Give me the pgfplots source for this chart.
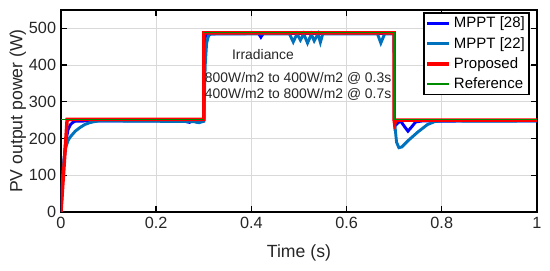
\documentclass[border=0pt]{standalone}
\usepackage{pgfplots}
\pgfplotsset{compat=1.18}
\usepackage{fontspec}
\setmainfont{Liberation Sans}
\definecolor{mblue}{RGB}{0,0,255}
\definecolor{lblue}{RGB}{0,114,189}
\definecolor{pred}{RGB}{255,0,0}
\definecolor{rgreen}{RGB}{0,140,0}
\definecolor{txt}{RGB}{38,38,38}
\begin{document}
\begin{tikzpicture}
\useasboundingbox (-43.9pt,-42.5pt) rectangle (352.1pt,152.6pt);
\begin{axis}[scale only axis, width=342.7pt, height=145.4pt,
  xmin=0, xmax=1, ymin=0, ymax=550,
  xtick={0,0.2,0.4,0.6,0.8,1}, ytick={0,100,200,300,400,500},
  grid=major, grid style={black!15, line width=0.8pt},
  axis line style={line width=1.1pt},
  tick style={black, line width=1pt}, major tick length=4pt,
  tick label style={font=\fontsize{11.7}{12}\selectfont, text=txt},
  /pgf/number format/assume math mode=true,
  xticklabel style={/pgf/number format/fixed},
  xlabel={Time (s)}, ylabel={PV output power (W)},
  label style={font=\fontsize{12.7}{13}\selectfont, text=txt},
  xlabel style={at={(axis description cs:0.5,-0.203)}, anchor=center},
  ylabel style={at={(axis description cs:-0.0905,0.5)}, anchor=center},
  legend cell align=left,
  legend style={at={(0.985,0.99)}, anchor=north east, draw=black, line width=1.2pt,
    font=\fontsize{10.8}{12}\selectfont, inner sep=1pt, row sep=1.2pt, fill=white},
  legend image code/.code={\draw[mark repeat=2,mark phase=2] plot coordinates {(0cm,0cm)(0.28cm,0cm)(0.56cm,0cm)};},
]
\addplot[mblue, line width=2.1pt] coordinates {
(0,0)(0.005,120)(0.01,190)(0.015,225)(0.02,238)(0.025,244)(0.03,247)(0.06,248)(0.1,248)(0.2,248)(0.26,247)(0.27,244)(0.275,248)(0.285,245)(0.29,248)(0.3,248)
(0.302,470)(0.305,485)(0.4,486)(0.415,486)(0.42,476)(0.425,486)(0.5,486)(0.6,486)(0.7,486)
(0.7005,250)(0.703,236)(0.708,243)(0.714,247)(0.722,232)(0.729,220)(0.737,232)(0.745,245)(0.76,248)(0.8,247)(0.85,248)(1,248)};
\addlegendentry{MPPT [28]}
\addplot[lblue, line width=2.1pt] coordinates {
(0,0)(0.003,80)(0.006,140)(0.01,175)(0.015,195)(0.02,205)(0.03,220)(0.04,230)(0.05,238)(0.06,243)(0.07,246)(0.08,248)(0.2,247)(0.28,246)(0.29,243)(0.3,247)
(0.303,400)(0.306,460)(0.31,480)(0.315,485)(0.48,485)(0.488,463)(0.496,485)(0.503,468)(0.51,485)(0.518,460)(0.526,484)(0.532,466)(0.54,485)(0.545,462)(0.55,485)(0.665,485)(0.672,460)(0.68,485)(0.7,485)
(0.7005,250)(0.705,190)(0.71,175)(0.716,177)(0.73,195)(0.75,218)(0.77,238)(0.785,246)(0.8,248)(0.9,247)(1,248)};
\addlegendentry{MPPT [22]}
\addplot[pred, line width=2.5pt] coordinates {
(0,0)(0.013,252)(0.3,252)(0.3,488)(0.7,488)(0.7,250)(0.701,240)(0.704,250)(1,250)};
\addlegendentry{Proposed}
\addplot[rgreen, line width=0.8pt] coordinates {
(0,252)(0.3,252)(0.3,488)(0.7,488)(0.7,252)(1,252)};
\addlegendentry{Reference}
\node[anchor=west, inner sep=0pt, font=\fontsize{10}{12}\selectfont, text=txt] at (axis cs:0.359,428) {Irradiance};
\node[anchor=west, inner sep=0pt, font=\fontsize{10}{12}\selectfont, text=txt] at (axis cs:0.302,365) {800W/m2 to 400W/m2 @ 0.3s};
\node[anchor=west, inner sep=0pt, font=\fontsize{10}{12}\selectfont, text=txt] at (axis cs:0.302,319) {400W/m2 to 800W/m2 @ 0.7s};
\end{axis}
\end{tikzpicture}
\end{document}
